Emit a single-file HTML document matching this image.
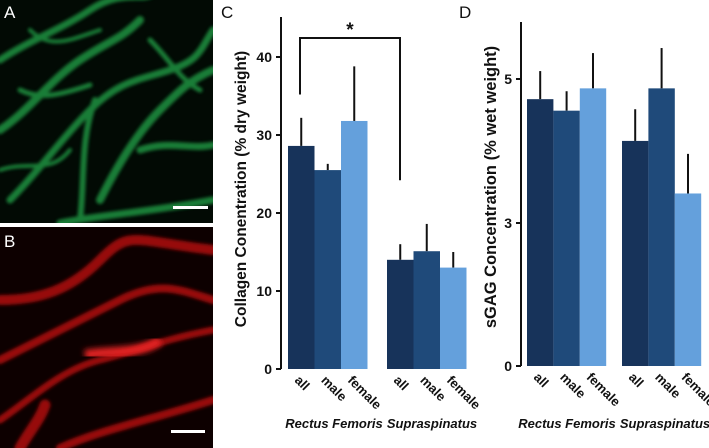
<!DOCTYPE html>
<html><head><meta charset="utf-8"><style>
html,body{margin:0;padding:0;background:#fff;}
svg{display:block;font-family:"Liberation Sans",Arial,sans-serif;}
</style></head><body>
<svg id="fig" width="709" height="448" viewBox="0 0 709 448">
<defs>
<filter id="blur2"><feGaussianBlur stdDeviation="1.6"/></filter>
<filter id="blur4"><feGaussianBlur stdDeviation="3"/></filter>
<clipPath id="clipA"><rect x="0" y="0" width="213" height="223"/></clipPath>
<clipPath id="clipB"><rect x="0" y="227" width="213" height="221"/></clipPath>
</defs>
<g clip-path="url(#clipA)">
<rect x="0" y="0" width="213" height="223" fill="#020a04"/>
<g fill="none" stroke="#1f8a3c" stroke-linecap="round" filter="url(#blur2)" opacity="0.9">
<path d="M0 60 C30 40 60 30 90 10 S140 0 150 -5" stroke-width="7"/>
<path d="M0 130 C30 110 50 80 80 60 S120 40 140 20" stroke-width="8"/>
<path d="M10 200 C40 170 60 140 90 110 S140 80 170 70 S200 50 213 30" stroke-width="7"/>
<path d="M80 220 C85 180 80 140 95 100" stroke-width="6"/>
<path d="M100 200 C120 160 140 130 160 110 S190 80 213 70" stroke-width="8"/>
<path d="M60 223 C100 215 150 212 213 200" stroke-width="7"/>
<path d="M140 150 C170 140 190 150 213 145" stroke-width="7"/>
<path d="M20 90 C40 100 60 95 90 85" stroke-width="5"/>
<path d="M150 40 C170 60 180 80 200 90" stroke-width="5"/>
<path d="M30 30 C50 50 70 40 100 30" stroke-width="4"/>
<path d="M0 170 C30 160 50 175 70 150" stroke-width="4"/>
</g>
<rect x="173" y="206" width="35" height="3" fill="#fff"/>
<text x="4" y="18" font-size="17" fill="#fff">A</text>
</g>
<g clip-path="url(#clipB)">
<rect x="0" y="227" width="213" height="221" fill="#0d0000"/>
<g fill="none" stroke="#b01010" stroke-linecap="round" filter="url(#blur2)" opacity="0.85">
<path d="M0 300 C40 300 70 290 100 260 S130 240 213 250" stroke-width="10"/>
<path d="M0 360 C40 340 80 320 120 300 S180 290 213 300" stroke-width="8"/>
<path d="M0 420 C30 400 60 370 100 360 S160 340 213 330" stroke-width="7"/>
<path d="M60 448 C100 430 150 420 213 400" stroke-width="8"/>
<path d="M20 448 C30 430 40 420 45 405" stroke-width="11"/>
</g>
<path d="M85 355 C110 350 140 355 160 340" stroke="#e02020" stroke-width="10" fill="none" filter="url(#blur4)"/>
<rect x="171" y="430" width="34" height="3" fill="#fff"/>
<text x="4" y="247" font-size="17" fill="#fff">B</text>
</g>
<text x="221" y="18" font-size="17" fill="#111">C</text>
<text x="459" y="18" font-size="17" fill="#111">D</text>
<g id="chartC"></g>
<g id="chartD"></g>
</svg>
<script>
const categories = ["all","male","female"];
const groups = ["Rectus Femoris","Supraspinatus"];
const collagenRF = [28.6, 25.5, 31.8];
const collagenRFErr = [3.6, 0.8, 7.0];
const collagenSS = [14.0, 15.1, 13.0];
const collagenSSErr = [2.0, 3.5, 2.0];
const collagenTicks = [0,10,20,30,40];
const sgagRF = [4.72, 4.56, 4.87];
const sgagRFErr = [0.39, 0.27, 0.49];
const sgagSS = [4.14, 4.87, 3.41];
const sgagSSErr = [0.44, 0.56, 0.55];
const sgagTicks = [0,3,5];
const colors = ["#17335a","#1f4a7a","#64a0dc"];
const NS = "http://www.w3.org/2000/svg";
function mk(parent, tag, attrs){const e=document.createElementNS(NS,tag);for(const k in attrs)e.setAttribute(k,attrs[k]);parent.appendChild(e);return e;}

function drawChart(g, cfg){
  const ax = cfg.axisX;
  const yScale = cfg.y;
  const axLine = mk(g,"line",{x1:ax,x2:ax,y1:cfg.top,y2:yScale(0),stroke:"#111","stroke-width":2});
  
  
  cfg.ticks.forEach(t=>{
    const y=yScale(t);
    const tk=mk(g,"line",{x1:ax-5,x2:ax,y1:y,y2:y,stroke:"#111","stroke-width":2});
    
    
    const tl=mk(g,"text",{x:ax-9,y:y+5,"text-anchor":"end","font-size":14,"font-weight":"bold",fill:"#111"});
    tl.textContent=t;
    
    
  });
  const title=mk(g,"text",{x:0,y:0,"text-anchor":"middle","font-size":cfg.titleSize,"font-weight":"bold",fill:"#111",transform:`translate(${cfg.titleX},${cfg.titleY}) rotate(-90)`});
  title.textContent=cfg.title;
  
  
  cfg.series.forEach((s,gi)=>{
    const x0=cfg.groupX[gi];
    const bw=cfg.barW;
    s.vals.forEach((v,i)=>{
      const x=x0+i*bw, yv=yScale(v), ye=yScale(v+s.err[i]);
      const el=mk(g,"line",{x1:x+bw/2,x2:x+bw/2,y1:ye,y2:yv,stroke:"#111","stroke-width":2});
      
      
      const r=mk(g,"rect",{x:x,y:yv,width:bw,height:yScale(0)-yv,fill:colors[i]});
      
      
      const lbl=mk(g,"text",{x:0,y:0,"font-size":13,"font-weight":"bold",fill:"#111",transform:`translate(${x+6},${yScale(0)+12}) rotate(45)`});
      lbl.textContent=categories[i];
      
      
    });
    const gl=mk(g,"text",{x:cfg.groupLabelX[gi],y:428,"text-anchor":"middle","font-size":13,"font-weight":"bold","font-style":"italic",fill:"#111"});
    gl.textContent=groups[gi];
    
    
  });
}

const yC = v => 369 - v*7.8;
const gC=document.getElementById("chartC");
drawChart(gC,{axisX:281,top:17,y:yC,ticks:collagenTicks,title:"Collagen Conentration (% dry weight)",titleSize:15.5,titleX:246,titleY:189,
  series:[{vals:collagenRF,err:collagenRFErr},{vals:collagenSS,err:collagenSSErr}],groupX:[288,387],barW:26.5,groupLabelX:[334,432]});
const br=mk(gC,"path",{d:`M300 ${yC(35.2)} L300 38 L400 38 L400 ${yC(24.2)}`,fill:"none",stroke:"#111","stroke-width":2});


const st=mk(gC,"text",{x:350,y:36,"text-anchor":"middle","font-size":19,"font-weight":"bold",fill:"#111"});
st.textContent="*";



const yD = v => v<=3 ? 366 - v*(143/3) : 223 - (v-3)*72;
const gD=document.getElementById("chartD");
drawChart(gD,{axisX:521,top:22,y:yD,ticks:sgagTicks,title:"sGAG Concentration (% wet weight)",titleSize:16.5,titleX:496,titleY:187,
  series:[{vals:sgagRF,err:sgagRFErr},{vals:sgagSS,err:sgagSSErr}],groupX:[527,622],barW:26.4,groupLabelX:[567,665]});
</script>
</body></html>
